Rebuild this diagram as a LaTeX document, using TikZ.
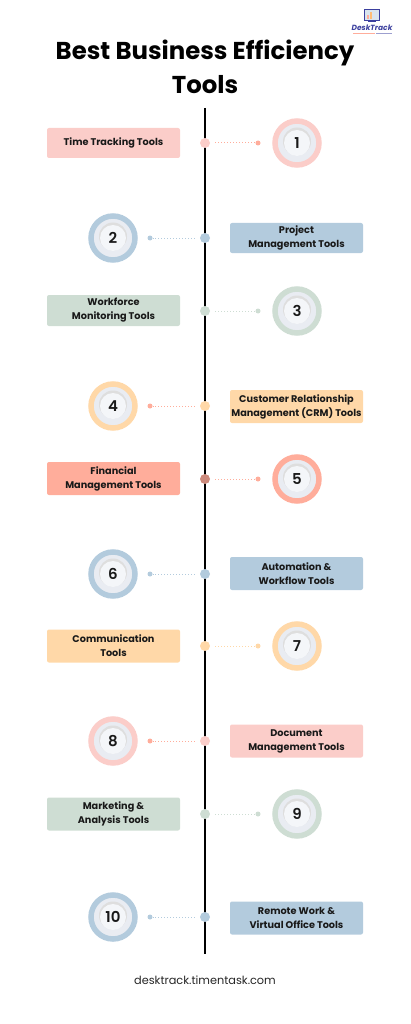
\documentclass[tikz,border=0pt]{standalone}
\usepackage{fontspec}
\setmainfont{Poppins}
\newfontfamily\numfont{Poppins SemiBold}
\usetikzlibrary{positioning}
\definecolor{blushtone}{HTML}{FBCDC9}
\definecolor{bluetone}{HTML}{B3CBDD}
\definecolor{sagetone}{HTML}{CEDDD3}
\definecolor{peachtone}{HTML}{FFD8A8}
\definecolor{salmontone}{HTML}{FFAD9B}
\definecolor{disctone}{HTML}{E9ECF2}
\definecolor{inktone}{HTML}{3B3F9E}
\tikzset{
  toolbox/.style={fill=#1,rounded corners=2pt,minimum width=133pt,minimum height=33pt,
    inner sep=0pt,align=center,font=\fontsize{9.7}{14}\selectfont\bfseries,text=black!90},
  hub/.style={circle,fill=#1,minimum size=10pt,inner sep=0pt},
  tip/.style={circle,fill=#1,minimum size=5pt,inner sep=0pt},
  leader/.style={draw=#1,dotted,line width=1pt,shorten <=5pt},
  badge/.style={circle,draw=#1,line width=5.5pt,fill=disctone,minimum size=44pt,inner sep=0pt,
    font=\fontsize{15}{15}\numfont,text=black!90,
    path picture={
      \fill[black!13] (path picture bounding box.center)++(0,-1.5) circle (14pt);
      \fill[disctone!50!white] (path picture bounding box.center) circle (13pt);
    }},
}
\begin{document}
\begin{tikzpicture}[x=1pt,y=-1pt]
  \useasboundingbox (0,0) rectangle (410,1024);

  \node[font=\fontsize{24.4}{34}\selectfont\bfseries,align=center] (title) at (205,67)
    {Best Business Efficiency\\Tools};

  % logo
  \node[draw=inktone,fill=bluetone!50,line width=0.7pt,minimum width=15pt,minimum height=11pt,inner sep=0pt] (screen) at (372,15) {};
  \fill[salmontone] (367,19) rectangle (369,15);
  \fill[peachtone!70!orange] (370,19) rectangle (372,12);
  \draw[inktone,line width=1pt] (368,22) -- (376,22);
  \node[font=\fontsize{7.5}{8}\selectfont\bfseries\itshape,text=inktone,below=4pt of screen,inner sep=0pt] (logo) {DeskTrack};
  \fill[salmontone] (353,33) rectangle (375,34);
  \fill[inktone!50] (376,33) rectangle (392,34);

  % spine
  \coordinate (top) at (205,108);
  \coordinate (bottom) at (205,954);
  \draw[line width=2pt] (top) -- (bottom);

  % row 1
  \node[toolbox=blushtone,minimum height=30pt] (box1) at (113.5,143) {Time Tracking Tools};
  \node[hub=blushtone] (hub1) at (205,143) {};
  \node[tip=salmontone] (tip1) at (258,143) {};
  \node[badge=blushtone] (num1) at (297,143) {1};
  \draw[leader=salmontone] (hub1) -- (tip1);

  % row 2
  \node[toolbox=bluetone,minimum height=30pt] (box2) at (296.5,238) {Project\\Management Tools};
  \node[hub=bluetone] (hub2) at (205,238) {};
  \node[tip=bluetone] (tip2) at (150,238) {};
  \node[badge=bluetone] (num2) at (113,238) {2};
  \draw[leader=bluetone] (hub2) -- (tip2);

  % row 3
  \node[toolbox=sagetone,minimum height=31pt] (box3) at (113.5,310.5) {Workforce\\Monitoring Tools};
  \node[hub=sagetone] (hub3) at (205,311) {};
  \node[tip=sagetone] (tip3) at (258,311) {};
  \node[badge=sagetone] (num3) at (297,311) {3};
  \draw[leader=sagetone] (hub3) -- (tip3);

  % row 4
  \node[toolbox=peachtone] (box4) at (296.5,406.5) {Customer Relationship\\Management (CRM) Tools};
  \node[hub=peachtone] (hub4) at (205,406) {};
  \node[tip=salmontone] (tip4) at (150,406) {};
  \node[badge=peachtone] (num4) at (113,406) {4};
  \draw[leader=salmontone] (hub4) -- (tip4);

  % row 5
  \node[toolbox=salmontone] (box5) at (113.5,478.5) {Financial\\Management Tools};
  \node[hub=salmontone!80!black] (hub5) at (205,479) {};
  \node[tip=salmontone] (tip5) at (258,479) {};
  \node[badge=salmontone] (num5) at (297,479) {5};
  \draw[leader=salmontone] (hub5) -- (tip5);

  % row 6
  \node[toolbox=bluetone] (box6) at (296.5,573.5) {Automation \&\\Workflow Tools};
  \node[hub=bluetone] (hub6) at (205,574) {};
  \node[tip=bluetone] (tip6) at (150,574) {};
  \node[badge=bluetone] (num6) at (113,574) {6};
  \draw[leader=bluetone] (hub6) -- (tip6);

  % row 7
  \node[toolbox=peachtone] (box7) at (113.5,646) {Communication\\Tools};
  \node[hub=peachtone] (hub7) at (205,646) {};
  \node[tip=peachtone] (tip7) at (258,646) {};
  \node[badge=peachtone] (num7) at (297,646) {7};
  \draw[leader=peachtone] (hub7) -- (tip7);

  % row 8
  \node[toolbox=blushtone] (box8) at (296.5,741) {Document\\Management Tools};
  \node[hub=blushtone] (hub8) at (205,741) {};
  \node[tip=salmontone] (tip8) at (150,741) {};
  \node[badge=blushtone] (num8) at (113,741) {8};
  \draw[leader=salmontone] (hub8) -- (tip8);

  % row 9
  \node[toolbox=sagetone] (box9) at (113.5,814) {Marketing \&\\Analysis Tools};
  \node[hub=sagetone] (hub9) at (205,814) {};
  \node[tip=sagetone] (tip9) at (258,814) {};
  \node[badge=sagetone] (num9) at (297,814) {9};
  \draw[leader=sagetone] (hub9) -- (tip9);

  % row 10
  \node[toolbox=bluetone] (box10) at (296.5,918) {Remote Work \&\\Virtual Office Tools};
  \node[hub=bluetone] (hub10) at (205,917) {};
  \node[tip=bluetone] (tip10) at (150,917) {};
  \node[badge=bluetone] (num10) at (113,917) {10};
  \draw[leader=bluetone] (hub10) -- (tip10);

  \node[font=\fontsize{11.3}{12}\selectfont,text=black!85] (site) at (205,980) {desktrack.timentask.com};
\end{tikzpicture}
\end{document}
